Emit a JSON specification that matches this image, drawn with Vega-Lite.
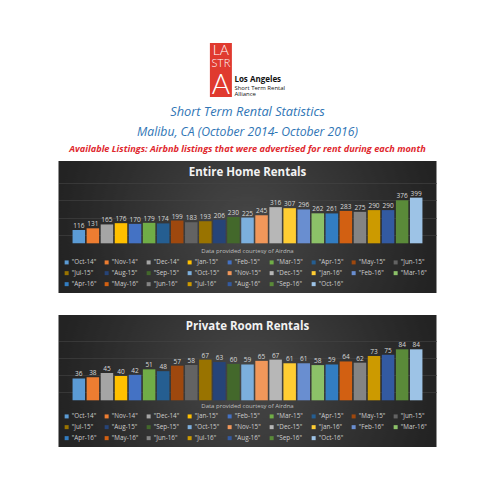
{
  "$schema": "https://vega.github.io/schema/vega-lite/v6.json",
  "background": "white",
  "padding": {"top": 43, "left": 0, "right": 0, "bottom": 0},
  "config": {"view": {"stroke": null}},
  "datasets": {
    "rentals": [
      {"month": "Oct-14", "entire": 116, "private": 36},
      {"month": "Nov-14", "entire": 131, "private": 38},
      {"month": "Dec-14", "entire": 165, "private": 45},
      {"month": "Jan-15", "entire": 176, "private": 40},
      {"month": "Feb-15", "entire": 170, "private": 42},
      {"month": "Mar-15", "entire": 179, "private": 51},
      {"month": "Apr-15", "entire": 174, "private": 48},
      {"month": "May-15", "entire": 199, "private": 57},
      {"month": "Jun-15", "entire": 183, "private": 58},
      {"month": "Jul-15", "entire": 193, "private": 67},
      {"month": "Aug-15", "entire": 206, "private": 63},
      {"month": "Sep-15", "entire": 230, "private": 60},
      {"month": "Oct-15", "entire": 225, "private": 59},
      {"month": "Nov-15", "entire": 245, "private": 65},
      {"month": "Dec-15", "entire": 316, "private": 67},
      {"month": "Jan-16", "entire": 307, "private": 61},
      {"month": "Feb-16", "entire": 296, "private": 61},
      {"month": "Mar-16", "entire": 262, "private": 58},
      {"month": "Apr-16", "entire": 261, "private": 59},
      {"month": "May-16", "entire": 283, "private": 64},
      {"month": "Jun-16", "entire": 275, "private": 62},
      {"month": "Jul-16", "entire": 290, "private": 73},
      {"month": "Aug-16", "entire": 290, "private": 75},
      {"month": "Sep-16", "entire": 376, "private": 84},
      {"month": "Oct-16", "entire": 399, "private": 84}
    ]
  },
  "vconcat": [
    {
      "vconcat": [
        {
          "hconcat": [
            {
              "width": 22,
              "height": 54,
              "view": {"fill": "#E03A2F", "stroke": null},
              "layer": [
                {
                  "data": {"values": [{"letters": "LA"}]},
                  "mark": {"type": "text", "font": "Lato", "fontWeight": 300, "fontSize": 14, "color": "white", "baseline": "middle", "dy": -19.5},
                  "encoding": {"text": {"field": "letters"}}
                },
                {
                  "data": {"values": [{"letters": "STR"}]},
                  "mark": {"type": "text", "font": "Lato", "fontWeight": 300, "fontSize": 11, "color": "white", "baseline": "middle", "dy": -6.5},
                  "encoding": {"text": {"field": "letters"}}
                },
                {
                  "data": {"values": [{"letters": "A"}]},
                  "mark": {"type": "text", "font": "Lato", "fontWeight": 300, "fontSize": 28, "color": "white", "baseline": "middle", "dy": 15.5},
                  "encoding": {"text": {"field": "letters"}}
                }
              ]
            },
            {
              "width": 1,
              "height": 54,
              "layer": [
                {
                  "data": {"values": [{"line": "Los Angeles"}]},
                  "mark": {"type": "text", "font": "Open Sans", "fontWeight": "bold", "fontSize": 8, "color": "#111111", "align": "left", "baseline": "middle", "dy": 10},
                  "encoding": {"text": {"field": "line"}}
                },
                {
                  "data": {"values": [{"line": "Short Term Rental"}]},
                  "mark": {"type": "text", "font": "Open Sans", "fontSize": 6, "color": "#111111", "align": "left", "baseline": "middle", "dy": 17.5},
                  "encoding": {"text": {"field": "line"}}
                },
                {
                  "data": {"values": [{"line": "Alliance"}]},
                  "mark": {"type": "text", "font": "Open Sans", "fontSize": 6, "color": "#111111", "align": "left", "baseline": "middle", "dy": 24},
                  "encoding": {"text": {"field": "line"}}
                }
              ]
            }
          ],
          "spacing": 2
        },
        {
          "width": 495,
          "height": 10,
          "title": {
            "text": "Short Term Rental Statistics",
            "subtitle": "Malibu, CA (October 2014- October 2016)",
            "anchor": "middle",
            "font": "Open Sans", "fontSize": 12.8, "fontStyle": "italic", "fontWeight": "normal", "color": "#2F75B5",
            "subtitleFont": "Open Sans", "subtitleFontSize": 12.2, "subtitleFontStyle": "italic", "subtitleColor": "#2F75B5",
            "subtitlePadding": 7, "offset": 6
          },
          "data": {"values": [{"t": "Available Listings: Airbnb listings that were advertised for rent during each month"}]},
          "mark": {"type": "text", "font": "Open Sans", "fontSize": 9.2, "fontStyle": "italic", "fontWeight": "bold", "color": "#E0282E"},
          "encoding": {"text": {"field": "t"}}
        }
      ],
      "spacing": 6,
      "center": true
    },
    {
      "vconcat": [
        {
          "width": 378,
          "height": 132,
          "view": {"fill": {"gradient": "radial", "stops": [{"offset": 0, "color": "#474747"}, {"offset": 1, "color": "#232323"}]}, "stroke": null},
          "layer": [
            {
              "data": {"name": "rentals"},
              "mark": {"type": "bar"},
              "encoding": {
                "x": {"field": "month", "type": "nominal", "sort": null, "axis": null,
                      "scale": {"paddingInner": 0.11, "paddingOuter": 1.0}},
                "y": {"field": "entire", "type": "quantitative",
                      "scale": {"domain": [-434, 719], "nice": false, "zero": false},
                      "axis": {"orient": "left", "grid": true, "gridColor": "#444444", "gridWidth": 0.6, "domain": false, "ticks": false, "labels": false, "title": null, "values": [75, 150, 225, 300, 375, 450, 525, 600]}},
                "y2": {"datum": 0},
                "color": {"field": "month", "type": "nominal", "sort": null,
                          "scale": {"domain": ["Oct-14","Nov-14","Dec-14","Jan-15","Feb-15","Mar-15","Apr-15","May-15","Jun-15","Jul-15","Aug-15","Sep-15","Oct-15","Nov-15","Dec-15","Jan-16","Feb-16","Mar-16","Apr-16","May-16","Jun-16","Jul-16","Aug-16","Sep-16","Oct-16"],
                                    "range": ["#5B9BD5","#ED7D31","#A5A5A5","#FFC000","#4472C4","#70AD47","#255E91","#9E480E","#636363","#997300","#264478","#43682B","#7CAFDD","#F1975A","#B7B7B7","#FFCD33","#698ED0","#8CC168","#327DC2","#D26012","#848484","#CC9A00","#335AA1","#5A8A39","#9DC3E6"]},
                          "legend": {"orient": "bottom-left", "offset": 5, "direction": "horizontal", "columns": 9, "title": null,
                                     "symbolType": "square", "symbolSize": 16, "symbolStrokeWidth": 0,
                                     "labelFontSize": 6.3, "labelColor": "#cccccc", "labelFont": "Open Sans",
                                     "columnPadding": 7, "rowPadding": 4, "labelOffset": 2,
                                     "labelExpr": "'\"' + datum.label + '\"'"}}
              }
            },
            {
              "data": {"name": "rentals"},
              "mark": {"type": "text", "font": "Open Sans", "fontSize": 6.5, "color": "#d9d9d9", "baseline": "bottom", "dy": -1},
              "encoding": {
                "x": {"field": "month", "type": "nominal", "sort": null},
                "y": {"field": "entire", "type": "quantitative"},
                "text": {"field": "entire"}
              }
            },
            {
              "data": {"values": [{"label": "Entire Home Rentals"}]},
              "mark": {"type": "text", "font": "Open Sans", "fontSize": 11.5, "fontWeight": "bold", "color": "#f2f2f2"},
              "encoding": {"y": {"datum": 617, "type": "quantitative"}, "text": {"field": "label"}}
            },
            {
              "data": {"values": [{"label": "Data provided courtesy of Airdna"}]},
              "mark": {"type": "text", "font": "Open Sans", "fontSize": 6, "color": "#bfbfbf"},
              "encoding": {"y": {"datum": -70, "type": "quantitative"}, "text": {"field": "label"}}
            }
          ]
        },
        {
          "width": 378,
          "height": 132,
          "view": {"fill": {"gradient": "radial", "stops": [{"offset": 0, "color": "#474747"}, {"offset": 1, "color": "#232323"}]}, "stroke": null},
          "layer": [
            {
              "data": {"name": "rentals"},
              "mark": {"type": "bar"},
              "encoding": {
                "x": {"field": "month", "type": "nominal", "sort": null, "axis": null,
                      "scale": {"paddingInner": 0.11, "paddingOuter": 1.0}},
                "y": {"field": "private", "type": "quantitative",
                      "scale": {"domain": [-76.9, 140.5], "nice": false, "zero": false},
                      "axis": {"orient": "left", "grid": true, "gridColor": "#444444", "gridWidth": 0.6, "domain": false, "ticks": false, "labels": false, "title": null, "values": [14, 28, 42, 56, 70, 84, 98, 112]}},
                "y2": {"datum": 0},
                "color": {"field": "month", "type": "nominal", "sort": null,
                          "scale": {"domain": ["Oct-14","Nov-14","Dec-14","Jan-15","Feb-15","Mar-15","Apr-15","May-15","Jun-15","Jul-15","Aug-15","Sep-15","Oct-15","Nov-15","Dec-15","Jan-16","Feb-16","Mar-16","Apr-16","May-16","Jun-16","Jul-16","Aug-16","Sep-16","Oct-16"],
                                    "range": ["#5B9BD5","#ED7D31","#A5A5A5","#FFC000","#4472C4","#70AD47","#255E91","#9E480E","#636363","#997300","#264478","#43682B","#7CAFDD","#F1975A","#B7B7B7","#FFCD33","#698ED0","#8CC168","#327DC2","#D26012","#848484","#CC9A00","#335AA1","#5A8A39","#9DC3E6"]},
                          "legend": {"orient": "bottom-left", "offset": 5, "direction": "horizontal", "columns": 9, "title": null,
                                     "symbolType": "square", "symbolSize": 16, "symbolStrokeWidth": 0,
                                     "labelFontSize": 6.3, "labelColor": "#cccccc", "labelFont": "Open Sans",
                                     "columnPadding": 7, "rowPadding": 4, "labelOffset": 2,
                                     "labelExpr": "'\"' + datum.label + '\"'"}}
              }
            },
            {
              "data": {"name": "rentals"},
              "mark": {"type": "text", "font": "Open Sans", "fontSize": 6.5, "color": "#d9d9d9", "baseline": "bottom", "dy": -1},
              "encoding": {
                "x": {"field": "month", "type": "nominal", "sort": null},
                "y": {"field": "private", "type": "quantitative"},
                "text": {"field": "private"}
              }
            },
            {
              "data": {"values": [{"label": "Private Room Rentals"}]},
              "mark": {"type": "text", "font": "Open Sans", "fontSize": 11.5, "fontWeight": "bold", "color": "#f2f2f2"},
              "encoding": {"y": {"datum": 121.3, "type": "quantitative"}, "text": {"field": "label"}}
            },
            {
              "data": {"values": [{"label": "Data provided courtesy of Airdna"}]},
              "mark": {"type": "text", "font": "Open Sans", "fontSize": 6, "color": "#bfbfbf"},
              "encoding": {"y": {"datum": -10, "type": "quantitative"}, "text": {"field": "label"}}
            }
          ]
        }
      ],
      "spacing": 22,
      "resolve": {"scale": {"color": "independent"}, "legend": {"color": "independent"}}
    }
  ],
  "spacing": 6,
  "center": true
}
